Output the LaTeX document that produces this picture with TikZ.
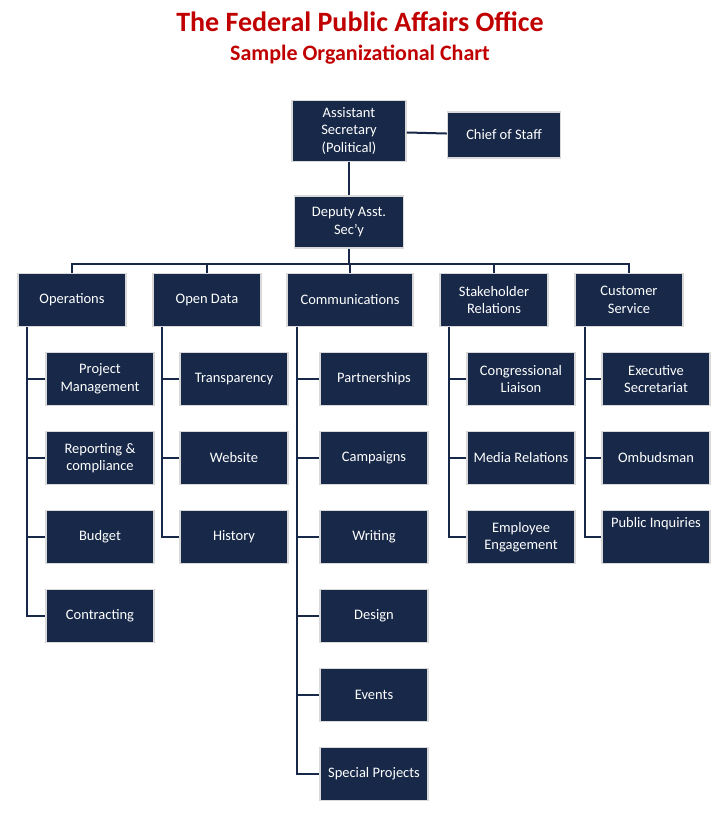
\documentclass[tikz,border=0pt]{standalone}
\usepackage{fontspec}
\setmainfont{Carlito}
\usetikzlibrary{positioning}
\definecolor{navy}{RGB}{23, 40, 72}
\definecolor{titlered}{RGB}{192, 0, 0}

\begin{document}
\begin{tikzpicture}[
    x=1pt, y=-1pt,
    box/.style={rectangle, draw=black!15, line width=1.5pt, fill=navy, text=white,
                minimum width=108pt, minimum height=53pt, inner sep=2pt,
                align=center, font=\fontsize{14.5}{17.5}\selectfont},
    link/.style={draw=navy, line width=2pt}
]
\useasboundingbox (0,0) rectangle (720,821);

% titles
\node[text=titlered, font=\fontsize{28}{32}\selectfont\bfseries] (title) at (360,22) {The Federal Public Affairs Office};
\node[text=titlered, font=\fontsize{22}{26}\selectfont\bfseries] (subtitle) at (360,55) {Sample Organizational Chart};

% top
\node[box, minimum width=114pt, minimum height=61pt] (asec) at (349,131) {Assistant\\Secretary\\(Political)};
\node[box, minimum width=113pt, minimum height=46pt] (chief) at (504,135) {Chief of Staff};
\node[box, minimum width=109pt, minimum height=52pt] (dep) at (349,222) {Deputy Asst.\\Sec’y};

% departments
\node[box] (ops) at (72,300) {Operations};
\node[box] (data) at (207,300) {Open Data};
\node[box, minimum width=126pt] (comms) at (350,300) {Communications};
\node[box] (stake) at (494,300) {Stakeholder\\Relations};
\node[box] (cust) at (629,300) {Customer\\Service};

% operations
\node[box] (opsA) at (100,379) {Project\\Management};
\node[box] (opsB) at (100,458) {Reporting \&\\compliance};
\node[box] (opsC) at (100,537) {Budget};
\node[box] (opsD) at (100,616) {Contracting};

% open data
\node[box] (dataA) at (234,379) {Transparency};
\node[box] (dataB) at (234,458) {Website};
\node[box] (dataC) at (234,537) {History};

% communications
\node[box] (commsA) at (374,379) {Partnerships};
\node[box] (commsB) at (374,458) {Campaigns};
\node[box] (commsC) at (374,537) {Writing};
\node[box] (commsD) at (374,616) {Design};
\node[box] (commsE) at (374,695) {Events};
\node[box] (commsF) at (374,774) {Special Projects};

% stakeholder relations
\node[box] (stakeA) at (521,379) {Congressional\\Liaison};
\node[box] (stakeB) at (521,458) {Media Relations};
\node[box] (stakeC) at (521,537) {Employee\\Engagement};

% customer service
\node[box] (custA) at (656,379) {Executive\\Secretariat};
\node[box] (custB) at (656,458) {Ombudsman};
\node[box] (custC) at (656,537) {Public Inquiries\\[12pt]};

\coordinate (bus) at (349,264);

\begin{scope}[on background layer/.style={}]
\draw[link] (asec) -- (chief);
\draw[link] (asec) -- (dep);
\draw[link] (dep) -- (bus);
\foreach \d in {ops, data, comms, stake, cust}
    \draw[link] (bus) -| (\d.north);
\foreach \c in {opsA, opsB, opsC, opsD}
    \draw[link] ([xshift=10pt]ops.south west) |- (\c.west);
\foreach \c in {dataA, dataB, dataC}
    \draw[link] ([xshift=10pt]data.south west) |- (\c.west);
\foreach \c in {commsA, commsB, commsC, commsD, commsE, commsF}
    \draw[link] ([xshift=11pt]comms.south west) |- (\c.west);
\foreach \c in {stakeA, stakeB, stakeC}
    \draw[link] ([xshift=10pt]stake.south west) |- (\c.west);
\foreach \c in {custA, custB, custC}
    \draw[link] ([xshift=11pt]cust.south west) |- (\c.west);
\end{scope}

\end{tikzpicture}
\end{document}
